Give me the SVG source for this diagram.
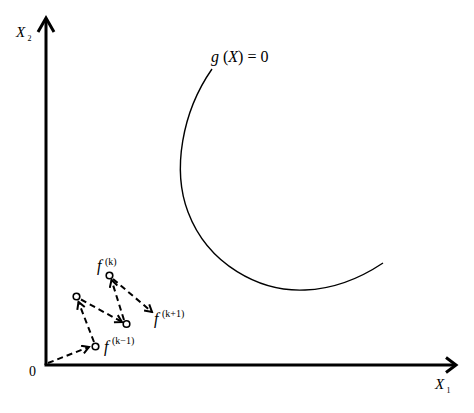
<svg xmlns="http://www.w3.org/2000/svg" width="474" height="413" viewBox="0 0 474 413">
<defs>
<style>
.axis{stroke:#000;stroke-width:3;fill:none}
.head{stroke:#000;stroke-width:3;fill:none;stroke-linejoin:miter}
.dash{stroke:#000;stroke-width:2;fill:none;stroke-dasharray:6 4}
.pt{stroke:#000;stroke-width:1.6;fill:#fff}
.t{font-family:"Liberation Serif",serif;fill:#000}
.it{font-style:italic}
</style>
<marker id="ah" markerWidth="10" markerHeight="10" refX="8" refY="5" orient="auto" markerUnits="userSpaceOnUse">
<path d="M1,1 L8,5 L1,9" fill="none" stroke="#000" stroke-width="2"/>
</marker>
</defs>
<rect width="474" height="413" fill="#fff"/>
<g id="axes">
<path class="axis" d="M46,365 L46,19"/>
<path class="head" d="M38,32 L46,18 L54,32"/>
<path class="axis" d="M44.5,365 L454,365"/>
<path class="head" d="M446,357.5 L456,365 L446,372.5"/>
<text class="t it" x="16" y="37" font-size="15">X</text>
<text class="t" x="27.5" y="41" font-size="8">2</text>
<text class="t it" x="435" y="389" font-size="15">X</text>
<text class="t" x="446.5" y="393" font-size="8">1</text>
<text class="t" x="29" y="376" font-size="14">0</text>
</g>
<g id="curve">
<path d="M212,69 C182,112 172,170 188,212 C208,265 260,292 305,290 C335,289 362,277 383,263" fill="none" stroke="#000" stroke-width="1.4"/>
<text class="t" x="211" y="62" font-size="16"><tspan font-style="italic">g</tspan> (<tspan font-style="italic">X</tspan>) = 0</text>
</g>
<g id="connectors">
<path class="dash" d="M48,363 L89,347" marker-end="url(#ah)"/>
<path class="dash" d="M94,342 L78.5,302" marker-end="url(#ah)"/>
<path class="dash" d="M81,299.5 L122,322" marker-end="url(#ah)"/>
<path class="dash" d="M124,320 L111.5,280" marker-end="url(#ah)"/>
<path class="dash" d="M113,279 L152,312" marker-end="url(#ah)"/>
</g>
<g id="pA">
<circle class="pt" cx="95.5" cy="346.5" r="3.3"/>
<text class="t" x="104" y="352" font-size="16"><tspan font-style="italic">f</tspan></text>
<text class="t" x="112" y="344" font-size="10">(k−1)</text>
</g>
<g id="pB">
<circle class="pt" cx="76.5" cy="296.5" r="3.3"/>
</g>
<g id="pC">
<circle class="pt" cx="126.5" cy="324" r="3.3"/>
</g>
<g id="pD">
<circle class="pt" cx="109.5" cy="275.5" r="3.3"/>
<text class="t" x="97" y="271" font-size="16"><tspan font-style="italic">f</tspan></text>
<text class="t" x="105" y="265" font-size="10">(k)</text>
</g>
<g id="pE">
<text class="t" x="154" y="324" font-size="16"><tspan font-style="italic">f</tspan></text>
<text class="t" x="162" y="317" font-size="10">(k+1)</text>
</g>
</svg>
